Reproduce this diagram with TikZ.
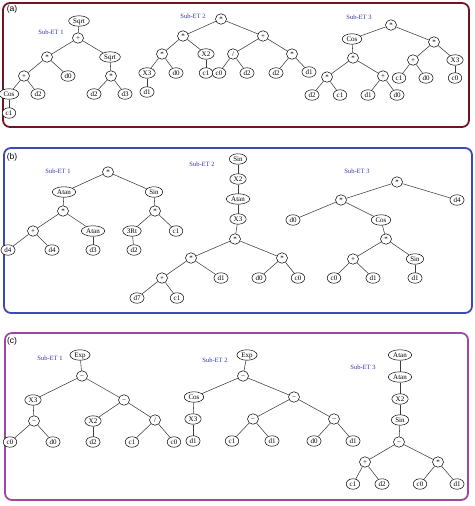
\documentclass[tikz,border=0pt]{standalone}
\usepackage{fontspec}
\setmainfont{Liberation Serif}
\newfontfamily\labfont{Liberation Sans}
\usetikzlibrary{shapes.geometric}
\definecolor{pa}{RGB}{112,22,32}
\definecolor{pb}{RGB}{62,72,180}
\definecolor{pc}{RGB}{160,72,160}
\definecolor{subc}{RGB}{50,50,170}
\definecolor{edgec}{RGB}{60,60,60}
\tikzset{
  nd/.style={ellipse, draw=black, line width=0.5pt, fill=white,
    inner xsep=1.5pt, inner ysep=0.3pt, minimum height=10.5pt, minimum width=11pt,
    text height=4.6pt, text depth=0.3pt, font=\fontsize{7}{7}\selectfont},
  edge/.style={draw=edgec, line width=0.55pt},
  panel/.style={line width=1.8pt, rounded corners=7pt},
  sublab/.style={text=subc, font=\fontsize{6.5}{7}\selectfont, inner sep=0pt},
  plab/.style={font=\labfont\fontsize{8.5}{9}\selectfont, inner sep=0pt}
}
\begin{document}
\begin{tikzpicture}[x=1pt,y=-1pt]
\useasboundingbox (0,0) rectangle (474,506);
% panels
\draw[panel, draw=pa] (3,3) rectangle (469,127);
\draw[panel, draw=pb] (4,148) rectangle (472,313);
\draw[panel, draw=pc] (5,333) rectangle (468,500);
\node[plab] (la) at (12,9) {(a)};
\node[plab] (lb) at (12,157) {(b)};
\node[plab] (lc) at (12,341) {(c)};
% sub labels
\node[sublab] (sa1) at (51,32) {Sub-ET 1};
\node[sublab] (sa2) at (193,16) {Sub-ET 2};
\node[sublab] (sa3) at (359,17) {Sub-ET 3};
\node[sublab] (sb1) at (58,171) {Sub-ET 1};
\node[sublab] (sb2) at (202,164) {Sub-ET 2};
\node[sublab] (sb3) at (357,171) {Sub-ET 3};
\node[sublab] (sc1) at (50,358) {Sub-ET 1};
\node[sublab] (sc2) at (215,360) {Sub-ET 2};
\node[sublab] (sc3) at (363,367) {Sub-ET 3};

% ---------- (a) tree 1
\node[nd] (A1) at (79,21) {Sqrt};
\node[nd] (A2) at (78,38) {+};
\node[nd] (A3) at (47,57) {*};
\node[nd] (A4) at (110,57) {Sqrt};
\node[nd] (A5) at (24,76) {+};
\node[nd] (A6) at (68,76) {d0};
\node[nd] (A7) at (111,76) {*};
\node[nd] (A8) at (9,94) {Cos};
\node[nd] (A9) at (38,94) {d2};
\node[nd] (A10) at (94,94) {d2};
\node[nd] (A11) at (125,94) {d3};
\node[nd] (A12) at (9,113) {c1};
\foreach \p/\c in {A1/A2,A2/A3,A2/A4,A3/A5,A3/A6,A4/A7,A5/A8,A5/A9,A7/A10,A7/A11,A8/A12}
  \draw[edge] (\p) -- (\c);
% ---------- (a) tree 2
\node[nd] (B1) at (221,19) {*};
\node[nd] (B2) at (183,36) {*};
\node[nd] (B3) at (263,36) {+};
\node[nd] (B4) at (162,54) {*};
\node[nd] (B5) at (206,54) {X2};
\node[nd] (B6) at (233,54) {/};
\node[nd] (B7) at (292,54) {*};
\node[nd] (B8) at (147,73) {X3};
\node[nd] (B9) at (176,73) {d0};
\node[nd] (B10) at (206,73) {c1};
\node[nd] (B11) at (219,73) {c0};
\node[nd] (B12) at (247,73) {d2};
\node[nd] (B13) at (276,73) {d2};
\node[nd] (B14) at (309,72) {d1};
\node[nd] (B15) at (147,92) {d1};
\foreach \p/\c in {B1/B2,B1/B3,B2/B4,B2/B5,B3/B6,B3/B7,B4/B8,B4/B9,B5/B10,B6/B11,B6/B12,B7/B13,B7/B14,B8/B15}
  \draw[edge] (\p) -- (\c);
% ---------- (a) tree 3
\node[nd] (C1) at (391,25) {*};
\node[nd] (C2) at (352,39) {Cos};
\node[nd] (C3) at (434,42) {*};
\node[nd] (C4) at (353,58) {*};
\node[nd] (C5) at (413,60) {+};
\node[nd] (C6) at (455,60) {X3};
\node[nd] (C7) at (327,77) {*};
\node[nd] (C8) at (383,76) {+};
\node[nd] (C9) at (399,78) {c1};
\node[nd] (C10) at (426,78) {d0};
\node[nd] (C11) at (455,78) {c0};
\node[nd] (C12) at (312,95) {d2};
\node[nd] (C13) at (340,95) {c1};
\node[nd] (C14) at (368,95) {d1};
\node[nd] (C15) at (397,95) {d0};
\foreach \p/\c in {C1/C2,C1/C3,C2/C4,C3/C5,C3/C6,C4/C7,C4/C8,C5/C9,C5/C10,C6/C11,C7/C12,C7/C13,C8/C14,C8/C15}
  \draw[edge] (\p) -- (\c);

% ---------- (b) tree 1
\node[nd] (D1) at (108,172) {*};
\node[nd] (D2) at (64,192) {Atan};
\node[nd] (D3) at (154,192) {Sin};
\node[nd] (D4) at (63,211) {*};
\node[nd] (D5) at (155,211) {*};
\node[nd] (D6) at (33,231) {+};
\node[nd] (D7) at (93,231) {Atan};
\node[nd] (D8) at (132,231) {3Rt};
\node[nd] (D9) at (176,231) {c1};
\node[nd] (D10) at (8,250) {d4};
\node[nd] (D11) at (52,250) {d4};
\node[nd] (D12) at (93,250) {d3};
\node[nd] (D13) at (134,250) {d2};
\foreach \p/\c in {D1/D2,D1/D3,D2/D4,D3/D5,D4/D6,D4/D7,D5/D8,D5/D9,D6/D10,D6/D11,D7/D12,D8/D13}
  \draw[edge] (\p) -- (\c);
% ---------- (b) tree 2
\node[nd] (E1) at (238,159) {Sin};
\node[nd] (E2) at (238,179) {X2};
\node[nd] (E3) at (238,199) {Atan};
\node[nd] (E4) at (238,219) {X3};
\node[nd] (E5) at (235,239) {*};
\node[nd] (E6) at (191,258) {*};
\node[nd] (E7) at (282,258) {*};
\node[nd] (E8) at (162,278) {+};
\node[nd] (E9) at (221,278) {d1};
\node[nd] (E10) at (259,278) {d0};
\node[nd] (E11) at (298,278) {c0};
\node[nd] (E12) at (137,298) {d7};
\node[nd] (E13) at (177,298) {c1};
\foreach \p/\c in {E1/E2,E2/E3,E3/E4,E4/E5,E5/E6,E5/E7,E6/E8,E6/E9,E7/E10,E7/E11,E8/E12,E8/E13}
  \draw[edge] (\p) -- (\c);
% ---------- (b) tree 3
\node[nd] (F1) at (397,182) {*};
\node[nd] (F2) at (341,200) {*};
\node[nd] (F3) at (457,200) {d4};
\node[nd] (F4) at (293,220) {d0};
\node[nd] (F5) at (381,220) {Cos};
\node[nd] (F6) at (386,239) {*};
\node[nd] (F7) at (353,259) {+};
\node[nd] (F8) at (415,259) {Sin};
\node[nd] (F9) at (334,278) {c0};
\node[nd] (F10) at (373,278) {d1};
\node[nd] (F11) at (415,278) {d1};
\foreach \p/\c in {F1/F2,F1/F3,F2/F4,F2/F5,F5/F6,F6/F7,F6/F8,F7/F9,F7/F10,F8/F11}
  \draw[edge] (\p) -- (\c);

% ---------- (c) tree 1
\node[nd] (G1) at (80,355) {Exp};
\node[nd] (G2) at (82,376) {−};
\node[nd] (G3) at (33,400) {X3};
\node[nd] (G4) at (124,400) {−};
\node[nd] (G5) at (34,421) {−};
\node[nd] (G6) at (93,421) {X2};
\node[nd] (G7) at (155,420) {/};
\node[nd] (G8) at (10,442) {c0};
\node[nd] (G9) at (53,442) {d0};
\node[nd] (G10) at (93,442) {d2};
\node[nd] (G11) at (132,442) {c1};
\node[nd] (G12) at (174,442) {c0};
\foreach \p/\c in {G1/G2,G2/G3,G2/G4,G3/G5,G4/G6,G4/G7,G5/G8,G5/G9,G6/G10,G7/G11,G7/G12}
  \draw[edge] (\p) -- (\c);
% ---------- (c) tree 2
\node[nd] (H1) at (247,355) {Exp};
\node[nd] (H2) at (243,376) {−};
\node[nd] (H3) at (194,397) {Cos};
\node[nd] (H4) at (294,397) {−};
\node[nd] (H5) at (193,419) {X3};
\node[nd] (H6) at (253,419) {−};
\node[nd] (H7) at (334,419) {−};
\node[nd] (H8) at (193,441) {d1};
\node[nd] (H9) at (232,441) {c1};
\node[nd] (H10) at (272,441) {d1};
\node[nd] (H11) at (314,441) {d0};
\node[nd] (H12) at (353,441) {d1};
\foreach \p/\c in {H1/H2,H2/H3,H2/H4,H3/H5,H4/H6,H4/H7,H5/H8,H6/H9,H6/H10,H7/H11,H7/H12}
  \draw[edge] (\p) -- (\c);
% ---------- (c) tree 3
\node[nd] (I1) at (400,355) {Atan};
\node[nd] (I2) at (400,377) {Atan};
\node[nd] (I3) at (400,399) {X2};
\node[nd] (I4) at (400,420) {Sin};
\node[nd] (I5) at (399,442) {−};
\node[nd] (I6) at (365,462) {+};
\node[nd] (I7) at (438,462) {*};
\node[nd] (I8) at (353,484) {c1};
\node[nd] (I9) at (382,484) {d2};
\node[nd] (I10) at (420,484) {c0};
\node[nd] (I11) at (457,484) {d1};
\foreach \p/\c in {I1/I2,I2/I3,I3/I4,I4/I5,I5/I6,I5/I7,I6/I8,I6/I9,I7/I10,I7/I11}
  \draw[edge] (\p) -- (\c);
\end{tikzpicture}
\end{document}
